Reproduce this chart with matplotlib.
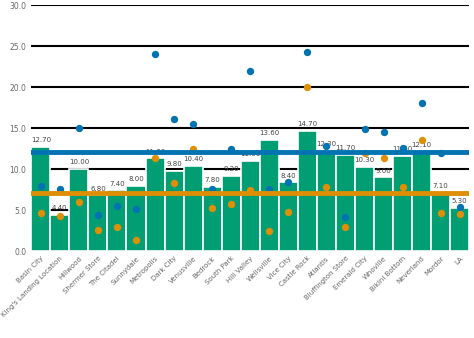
import numpy as np
from matplotlib import pyplot as plt

locations = ["Basin City", "King's Landing Location", "Hillwood", "Shermer Store",
             "The Citadel", "Sunnydale", "Metropolis", "Dark City", "Venusville",
             "Bedrock", "South Park", "Hill Valley", "Wellsville", "Vice City",
             "Castle Rock", "Atlantis", "Bluffington Store", "Emerald City",
             "Whoville", "Bikini Bottom", "Neverland", "Mordor", "LA"]
bar_values = [12.7, 4.4, 10.0, 6.8, 7.4, 8.0, 11.3, 9.8, 10.4, 7.8, 9.2, 11.0,
              13.6, 8.4, 14.7, 12.3, 11.7, 10.3, 9.0, 11.6, 12.1, 7.1, 5.3]
blue_values = [8.0, 7.6, 15.0, 4.4, 5.5, 5.1, 24.0, 16.1, 15.5, 7.6, 12.5, 22.0,
               7.6, 8.4, 24.3, 12.8, 4.2, 14.9, 14.5, 12.6, 18.0, 12.0, 5.4]
orange_values = [4.7, 4.3, 6.0, 2.6, 3.0, 1.3, 11.3, 8.3, 12.4, 5.2, 5.7, 7.4,
                 2.5, 4.8, 20.0, 7.8, 3.0, 12.0, 11.3, 7.8, 13.5, 4.7, 4.5]

GREEN = "#029E73"
BLUE = "#0173B2"
ORANGE = "#DE8F05"

fig = plt.figure(figsize=(4.74, 3.38), dpi=100)
ax = fig.add_axes([0.066, 0.257, 0.924, 0.728])

x = np.arange(len(locations))
bars = ax.bar(x, bar_values, width=1.0, color=GREEN, edgecolor="white",
              linewidth=1.2, zorder=2)
for xi, v in zip(x, bar_values):
    ax.text(xi, v + 0.45, f"{v:.2f}", ha="center", va="bottom",
            fontsize=5, color="#444444", zorder=3)

ax.scatter(x, blue_values, s=28, color=BLUE, zorder=4, linewidths=0)
ax.scatter(x, orange_values, s=28, color=ORANGE, zorder=4, linewidths=0)

ax.axhline(np.mean(blue_values), color=BLUE, linewidth=3.5, zorder=5)
ax.axhline(np.mean(orange_values), color=ORANGE, linewidth=3.5, zorder=5)

ax.set_xlim(-0.5, len(locations) - 0.5)
ax.set_ylim(0, 30)
ax.set_yticks(np.arange(0, 31, 5))
ax.set_yticklabels([f"{t:.1f}" for t in np.arange(0, 31, 5)])
ax.set_xticks(x)
ax.set_xticklabels(locations, rotation=45, ha="right", rotation_mode="anchor")
ax.tick_params(axis="both", length=0, labelcolor="#666666")
ax.tick_params(axis="y", labelsize=5.5)
ax.tick_params(axis="x", labelsize=5, pad=3)

ax.yaxis.grid(True, color="black", linewidth=1.5, zorder=0)
ax.set_axisbelow(True)
for s in ax.spines.values():
    s.set_visible(False)

plt.savefig("out.png", dpi=100)
